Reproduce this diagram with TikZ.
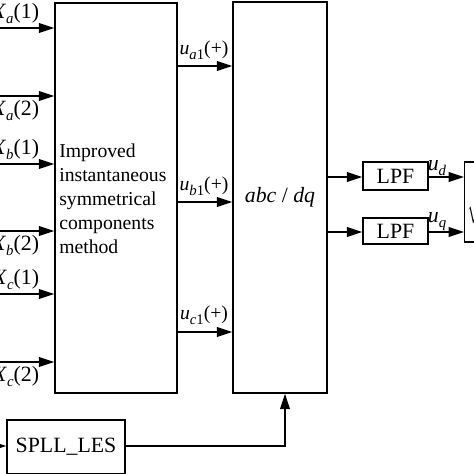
\documentclass[tikz,border=0pt]{standalone}
\usepackage{fontspec}
\setmainfont{Liberation Serif}
\usetikzlibrary{arrows.meta}
\newcommand{\sub}[1]{\raisebox{-0.5ex}{\fontsize{10.5}{12}\selectfont #1}}
\tikzset{
  blk/.style={draw,line width=1pt,inner sep=0pt},
  sigarrow/.style={-{Triangle[length=11pt,width=7pt]},line width=1pt},
  lbl/.style={font=\fontsize{14}{17}\selectfont},
  big/.style={font=\fontsize{15.5}{18}\selectfont}
}
\begin{document}
\begin{tikzpicture}[x=0.025cm,y=-0.025cm,lbl]
            \useasboundingbox (0,0) rectangle (474,474);
            % blocks
            \node [blk,minimum width=3.05cm,minimum height=9.75cm] (imp) at (116,198) {};
            \node [align=left,anchor=west,inner sep=0pt] (imptxt) at (59,199) {Improved\\instantaneous\\symmetrical\\components\\method};
            \node [blk,big,minimum width=2.35cm,minimum height=9.775cm] (abc) at (280,197.5) {\textit{abc} / \textit{dq}};
            \node [blk,big,minimum width=1.625cm,minimum height=0.7cm] (lpfd) at (395.5,176) {LPF};
            \node [blk,big,minimum width=1.625cm,minimum height=0.65cm] (lpfq) at (395.5,231) {LPF};
            \node [blk,minimum width=2cm,minimum height=2cm,anchor=west] (amp) at (464,202) {};
            \node [big,anchor=west] (amptxt) at (463,207) {$\sqrt{u_d^2+u_q^2}$};
            \node [blk,big,minimum width=2.95cm,minimum height=1.35cm] (spll) at (66,447) {SPLL\_LES};
            % inputs
            \foreach \y/\t/\s/\n/\p in {28/X/a/1/-14,96/X/a/2/15,164/X/b/1/-14,231/X/b/2/15,294/X/c/1/-14,362/X/c/2/15} {
                \coordinate (in\y) at (0,\y);
                \draw [sigarrow] (in\y) -- (imp.west |- in\y);
                \path (44,\y+\p) node [big,anchor=east] {\textit{\t}\sub{\textit{\s}}(\n)};
            }
            % outputs of the sequence block
            \foreach \y/\s/\p in {66/a/16,202/b/16,332/c/17} {
                \coordinate (out\s) at (imp.east |- 0,\y);
                \draw [sigarrow] (out\s) -- (abc.west |- out\s);
                \path (204,\y-\p) node {\textit{u}\sub{\textit{\s}1}(+)};
            }
            % dq path
            \draw [sigarrow] (abc.east |- 0,177) -- (lpfd.west |- 0,177);
            \draw [sigarrow] (abc.east |- 0,232) -- (lpfq.west |- 0,232);
            \draw [sigarrow] (lpfd.east |- 0,177) -- (amp.west |- 0,177);
            \draw [sigarrow] (lpfq.east |- 0,232) -- (amp.west |- 0,232);
            \path (437,168) node [big] {\textit{u}\sub{\textit{d}}};
            \path (437,222) node [big] {\textit{u}\sub{\textit{q}}};
            % phase locked loop
            \coordinate (pllin) at (-10,446);
            \draw [sigarrow] (pllin) -- (spll.west |- pllin);
            \coordinate (pllout) at (285,446);
            \draw [sigarrow] (spll.east |- pllout) -- (pllout) -- (pllout |- abc.south);
\end{tikzpicture}
\end{document}
